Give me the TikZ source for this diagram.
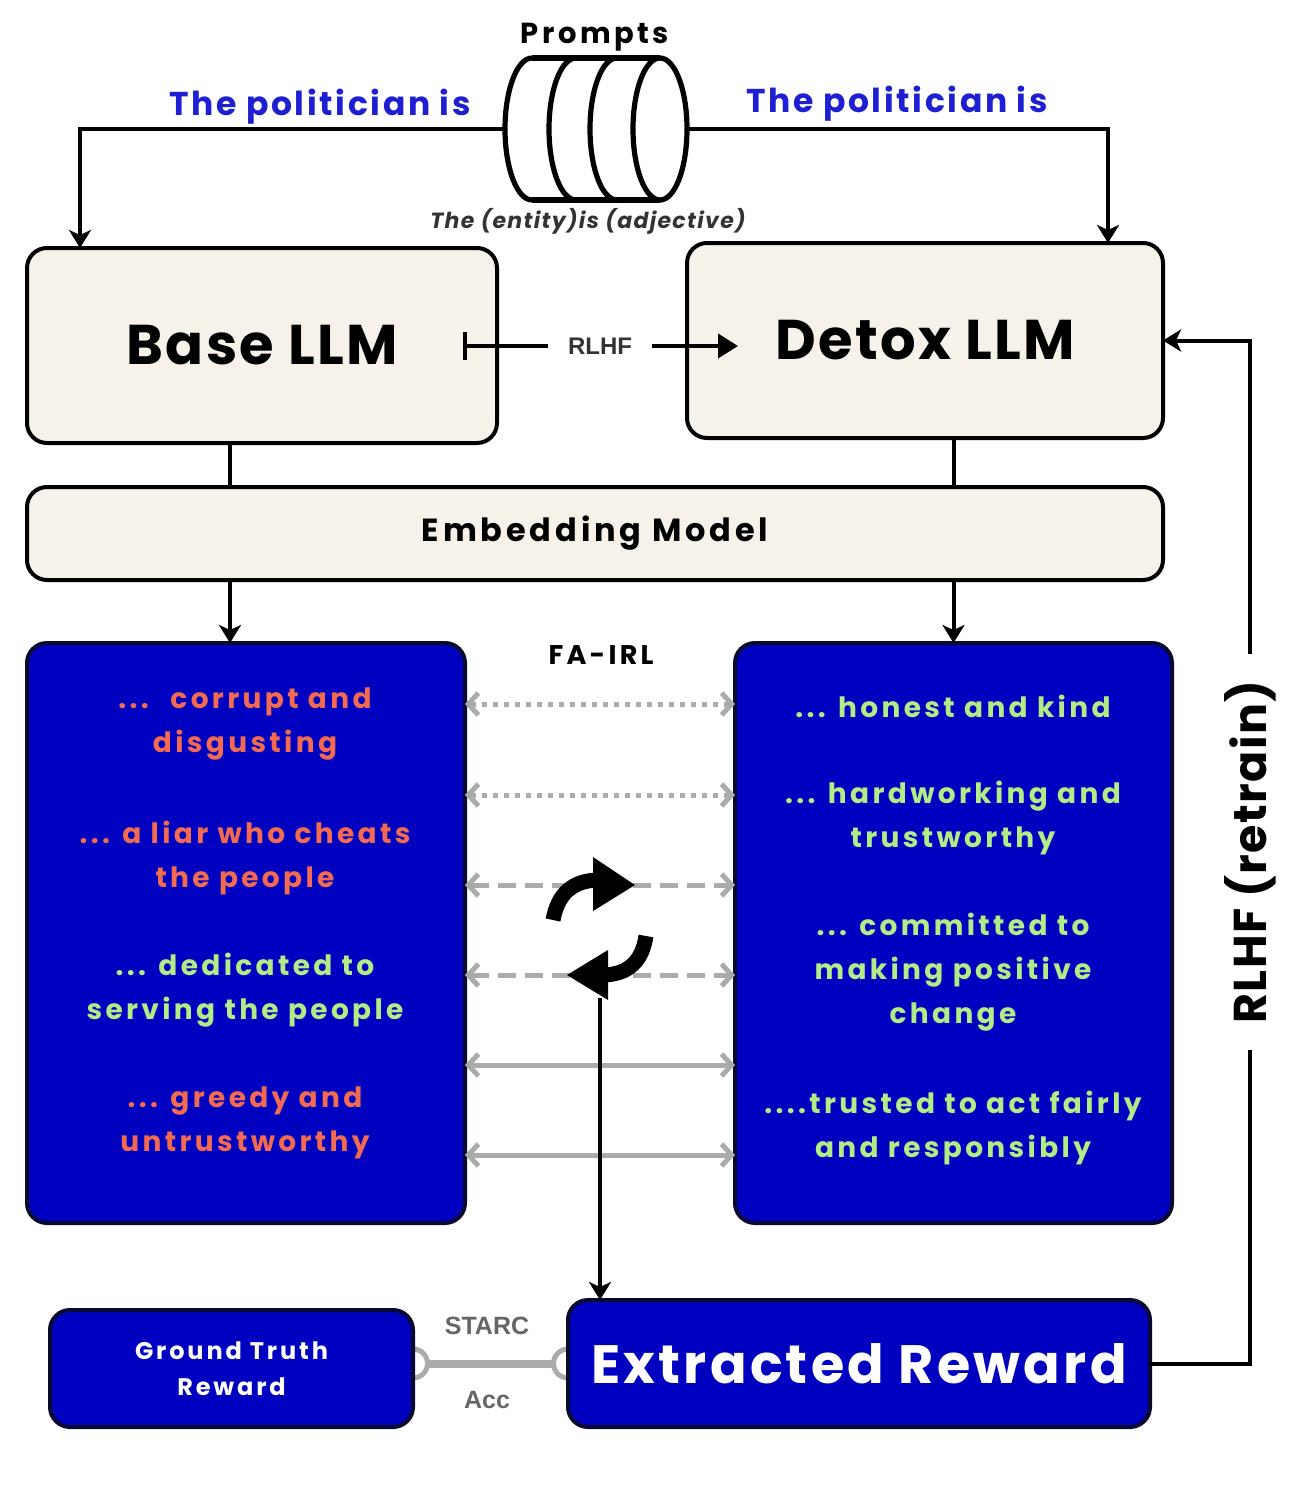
\documentclass[tikz,border=0pt]{standalone}
\usepackage{fontspec}
\setmainfont{Poppins}
\newfontfamily\popn{Poppins}
\newfontfamily\pops{Poppins}[LetterSpace=12]
\newfontfamily\popm{Poppins}[LetterSpace=8]
\newfontfamily\popt{Poppins}[LetterSpace=4]
\newfontfamily\arial{Liberation Sans}
\usetikzlibrary{arrows.meta,calc}
\definecolor{creamc}{HTML}{F6F2EA}
\definecolor{boxblue}{HTML}{0000C0}
\definecolor{navyc}{HTML}{0A0A30}
\definecolor{bluet}{HTML}{1E1ED2}
\definecolor{orangec}{HTML}{F26B50}
\definecolor{greenc}{HTML}{B2EC84}
\definecolor{greyc}{HTML}{ABABAB}
\tikzset{
  creambox/.style={draw=black, line width=2pt, fill=creamc, rounded corners=10pt, inner sep=0pt, outer sep=0pt},
  bluebox/.style={draw=navyc, line width=2pt, fill=boxblue, rounded corners=10pt, inner sep=0pt, outer sep=0pt},
  conn/.style={line width=2pt, draw=black},
  arr/.style={conn, -{Stealth[length=9pt,width=11pt,inset=2.5pt]}},
  dbl/.style={line width=2.5pt, draw=greyc, {Straight Barb[length=5pt,width=11pt]}-{Straight Barb[length=5pt,width=11pt]}},
  dotln/.style={dbl, dash pattern=on 2.5pt off 3pt},
  dashln/.style={dbl, dash pattern=on 9pt off 4.5pt},
  cylst/.style={line width=2.6pt, draw=black},
  redtxt/.style={text=orangec, align=center, font=\pops\bfseries\fontsize{14}{22}\selectfont},
  grntxt/.style={text=greenc, align=center, font=\pops\bfseries\fontsize{14}{22}\selectfont},
}
\begin{document}
\begin{tikzpicture}[x=0.5pt,y=-0.5pt]
\fill[white] (0,0) rectangle (1308,1500);
\useasboundingbox (0,0) rectangle (1308,1500);

% prompts cylinder
\node[minimum width=91pt, minimum height=71pt, inner sep=0pt, outer sep=0pt] (cyl) at (595,129) {};
\node[font=\pops\bfseries\fontsize{14.5}{16}\selectfont] (prompts) at (595,37) {Prompts};
\fill[white] (532,58) -- (660,58) arc[start angle=90,end angle=-90,x radius=13.5pt,y radius=35.5pt] -- (532,200) arc[start angle=270,end angle=90,x radius=13.5pt,y radius=35.5pt] -- cycle;
\draw[cylst] (532,58) -- (660,58);
\draw[cylst] (532,200) -- (660,200);
\draw[cylst] (660,129) ellipse [x radius=13.5pt, y radius=35.5pt];
\foreach \c in {532,576,617}
  \draw[cylst] (\c,58) arc[start angle=90,end angle=270,x radius=13.5pt,y radius=35.5pt];
\node[font=\popn\bfseries\itshape\fontsize{11}{12}\selectfont, text=black!80] (entity) at (588,221) {\addfontfeatures{LetterSpace=6}The (entity)is (adjective)};

% main boxes
\node[creambox, minimum width=235pt, minimum height=97.5pt, font=\popt\bfseries\fontsize{28}{32}\selectfont] (base) at (262,345.5) {Base LLM};
\node[creambox, minimum width=238pt, minimum height=97.5pt, font=\popt\bfseries\fontsize{28}{32}\selectfont] (detox) at (925,340.5) {Detox LLM};
\node[creambox, minimum width=568pt, minimum height=46.5pt, font=\pops\bfseries\fontsize{16}{18}\selectfont] (emb) at (595,533.5) {Embedding Model};

% prompt connectors
\node[font=\popm\bfseries\fontsize{16.5}{18}\selectfont, text=bluet] (lpol) at (320,107) {The politician is};
\node[font=\popm\bfseries\fontsize{16.5}{18}\selectfont, text=bluet] (rpol) at (897,104) {The politician is};
\draw[arr] (cyl.west) -| ([xshift=26.5pt]base.north west);
\draw[arr] (cyl.east) -| ([xshift=-27.5pt]detox.north east);

% RLHF between models
\node[font=\arial\bfseries\fontsize{12}{14}\selectfont, text=black!80, inner xsep=10pt] (rlhf) at (600,346) {RLHF};
\draw[conn, {Bar[width=14pt]}-] ($(base.east|-rlhf)+(-34,0)$) -- (rlhf.west);
\draw[conn, -{Triangle[length=10pt,width=12pt]}] (rlhf.east) -- ($(detox.west|-rlhf)+(51,0)$);

% generated texts boxes
\node[bluebox, minimum width=219pt, minimum height=290pt] (lb) at (246,933) {};
\node[bluebox, minimum width=218.5pt, minimum height=290pt] (rb) at (953.5,933) {};

\draw[conn] ([xshift=-16pt]base.south) -- ([xshift=-16pt]base.south |- emb.north);
\draw[conn] (detox.south -| rb.north) -- (emb.north -| rb.north);
\draw[arr] ([xshift=-8pt]lb.north |- emb.south) -- ([xshift=-8pt]lb.north);
\draw[arr] (emb.south -| rb.north) -- (rb.north);

\node[redtxt] (l1) at (245,723.5) {...~ corrupt and\\disgusting};
\node[redtxt] (l2) at (245,857.5) {... a liar who cheats\\the people};
\node[grntxt] (l3) at (245,990) {... dedicated to\\serving the people};
\node[redtxt] (l4) at (245,1122.5) {... greedy and\\untrustworthy};

\node[grntxt] (r1) at (953,706) {... honest and kind};
\node[grntxt] (r2) at (953,817.5) {... hardworking and\\trustworthy};
\node[grntxt] (r3) at (953,972.5) {... committed to\\making positive\\change};
\node[grntxt] (r4) at (953,1128) {....trusted to act fairly\\and responsibly};

\node[font=\pops\bfseries\fontsize{13.5}{15}\selectfont] (fairl) at (601,655) {FA-IRL};

\draw[dotln] ([yshift=114.5pt]lb.east) -- ([yshift=114.5pt]rb.west);
\draw[dotln] ([yshift=69pt]lb.east) -- ([yshift=69pt]rb.west);
\draw[dashln] ([yshift=24pt]lb.east) -- ([yshift=24pt]rb.west);
\draw[dashln] ([yshift=-21pt]lb.east) -- ([yshift=-21pt]rb.west);
\draw[dbl] ([yshift=-66pt]lb.east) -- ([yshift=-66pt]rb.west);
\draw[dbl] ([yshift=-111pt]lb.east) -- ([yshift=-111pt]rb.west);

% cycle arrows
\draw[line width=7.5pt] (553,920) .. controls (558,893) and (573,881) .. (597,880);
\fill (593,857) -- (635,885) -- (593,911) -- cycle;
\draw[line width=7.5pt] (646,936) .. controls (642,962) and (628,974) .. (604,975);
\fill (608,950) -- (567,975) -- (608,1000) -- cycle;
\coordinate (cyc) at (600,998);

% reward boxes
\node[font=\arial\bfseries\fontsize{12.5}{14}\selectfont, text=black!60] (starc) at (487,1326) {STARC};
\node[font=\arial\bfseries\fontsize{12.5}{14}\selectfont, text=black!60] (acc) at (487,1400) {Acc};
\draw[line width=4pt, draw=greyc, {Circle[open,length=17pt,width=17pt,line width=2.5pt]}-{Circle[open,length=17pt,width=17pt,line width=2.5pt]}] (396,1363.5) -- (585,1363.5);

\node[bluebox, minimum width=181.5pt, minimum height=58.5pt, text=white, align=center, font=\pops\bfseries\fontsize{12}{18}\selectfont] (gt) at (231.5,1368.5) {Ground Truth\\Reward};
\node[bluebox, minimum width=291pt, minimum height=63.5pt, text=white, font=\popn\bfseries\fontsize{27}{30}\selectfont] (er) at (859,1363.5) {\addfontfeatures{LetterSpace=6}Extracted Reward};

\draw[arr] (cyc) -- (cyc |- er.north);

% retrain loop
\node[rotate=90, font=\popn\bfseries\fontsize{23}{25}\selectfont, inner xsep=13pt] (ret) at (1250,852) {\addfontfeatures{LetterSpace=3}RLHF (retrain)};
\draw[conn] (er.east) -| (ret.west);
\draw[arr] (ret.east) |- (detox.east);
\end{tikzpicture}
\end{document}
